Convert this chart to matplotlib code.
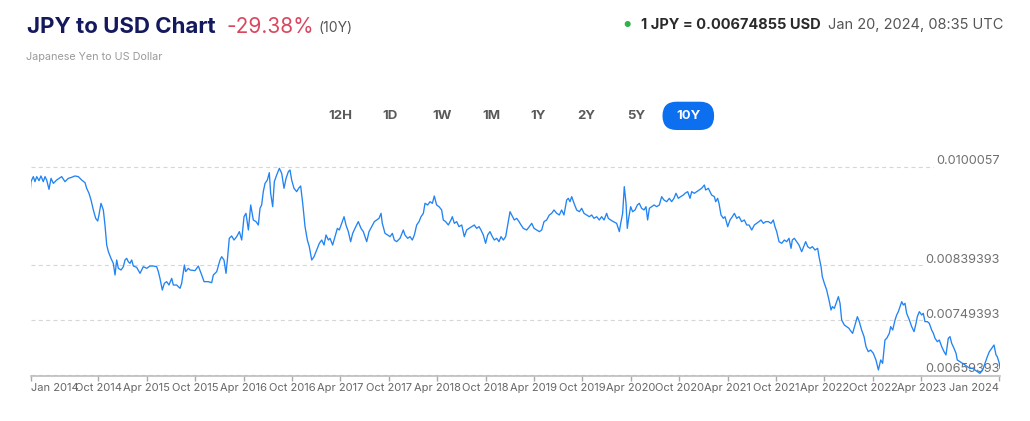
import numpy as np
import matplotlib
matplotlib.use('Agg')
import matplotlib.pyplot as plt
from matplotlib.patches import FancyBboxPatch, Circle
from matplotlib.transforms import IdentityTransform, blended_transform_factory

plt.rcParams['font.family'] = ['Inter', 'DejaVu Sans']

# JPY -> USD, dates as decimal years
dates_a = [2014.043, 2014.053, 2014.077, 2014.094, 2014.112, 2014.136, 2014.156, 2014.180, 2014.198, 2014.215,
           2014.239, 2014.260, 2014.284, 2014.318, 2014.370, 2014.404, 2014.439, 2014.473, 2014.507, 2014.542,
           2014.576, 2014.611, 2014.628, 2014.652, 2014.673, 2014.697, 2014.721, 2014.742, 2014.755, 2014.776,
           2014.800, 2014.817, 2014.835, 2014.852, 2014.879, 2014.903, 2014.921, 2014.938, 2014.955, 2014.983,
           2015.007, 2015.024, 2015.041, 2015.058, 2015.075, 2015.093, 2015.110, 2015.144, 2015.179, 2015.213,
           2015.248, 2015.282, 2015.316, 2015.351, 2015.368, 2015.385, 2015.409, 2015.430, 2015.454, 2015.478,
           2015.506, 2015.523, 2015.557, 2015.592, 2015.609, 2015.637, 2015.650, 2015.678]
rates_a = [0.009570, 0.009761, 0.009843, 0.009761, 0.009843, 0.009777, 0.009854, 0.009761, 0.009843, 0.009788,
           0.009635, 0.009815, 0.009733, 0.009788, 0.009843, 0.009761, 0.009815, 0.009832, 0.009854, 0.009843,
           0.009788, 0.009744, 0.009652, 0.009570, 0.009460, 0.009297, 0.009160, 0.009116, 0.009215, 0.009406,
           0.009297, 0.009051, 0.008723, 0.008614, 0.008505, 0.008423, 0.008232, 0.008478, 0.008341, 0.008314,
           0.008368, 0.008478, 0.008505, 0.008450, 0.008423, 0.008478, 0.008379, 0.008358, 0.008259, 0.008368,
           0.008341, 0.008379, 0.008379, 0.008368, 0.008287, 0.008177, 0.007986, 0.008095, 0.008123, 0.008068,
           0.008177, 0.008068, 0.008068, 0.008014, 0.008095, 0.008396, 0.008287, 0.008341]

dates_b = [2015.695, 2015.747, 2015.781, 2015.816, 2015.840, 2015.884, 2015.919, 2015.936, 2015.971, 2016.005,
           2016.022, 2016.046, 2016.067, 2016.081, 2016.101, 2016.125, 2016.150, 2016.177, 2016.205, 2016.229,
           2016.253, 2016.273, 2016.298, 2016.322, 2016.349, 2016.377, 2016.401, 2016.418, 2016.435, 2016.452,
           2016.470, 2016.494, 2016.514, 2016.528, 2016.549, 2016.566, 2016.590, 2016.618, 2016.642, 2016.666,
           2016.687, 2016.711, 2016.728, 2016.745, 2016.769, 2016.797, 2016.817, 2016.838, 2016.859, 2016.883,
           2016.907, 2016.927, 2016.952, 2016.976, 2017.003, 2017.031, 2017.055, 2017.079, 2017.100, 2017.124,
           2017.141, 2017.168, 2017.193, 2017.217, 2017.237, 2017.261, 2017.286, 2017.306, 2017.330, 2017.354,
           2017.375, 2017.399]
rates_b = [0.008314, 0.008303, 0.008379, 0.008232, 0.008123, 0.008123, 0.008106, 0.008232, 0.008287, 0.008478,
           0.008532, 0.008478, 0.008259, 0.008478, 0.008833, 0.008871, 0.008805, 0.008860, 0.008942, 0.008805,
           0.009187, 0.009242, 0.008969, 0.009379, 0.009133, 0.009106, 0.009051, 0.009324, 0.009379, 0.009597,
           0.009733, 0.009788, 0.009908, 0.009570, 0.009351, 0.009761, 0.009870, 0.009979, 0.009897, 0.009652,
           0.009815, 0.009925, 0.009952, 0.009788, 0.009652, 0.009597, 0.009652, 0.009690, 0.009406, 0.009024,
           0.008805, 0.008696, 0.008478, 0.008532, 0.008641, 0.008751, 0.008805, 0.008723, 0.008887, 0.008805,
           0.008833, 0.008723, 0.008860, 0.008996, 0.008969, 0.009078, 0.009187, 0.009051, 0.008942, 0.008778,
           0.008914, 0.008996]

dates_c = [2017.433, 2017.461, 2017.485, 2017.520, 2017.544, 2017.571, 2017.599, 2017.623, 2017.647, 2017.668,
           2017.681, 2017.709, 2017.736, 2017.760, 2017.785, 2017.805, 2017.829, 2017.864, 2017.898, 2017.915,
           2017.943, 2017.967, 2017.991, 2018.012, 2018.036, 2018.060, 2018.081, 2018.105, 2018.122, 2018.149,
           2018.174, 2018.198, 2018.218, 2018.242, 2018.267, 2018.294, 2018.311, 2018.335, 2018.363, 2018.390,
           2018.404, 2018.425, 2018.449, 2018.473, 2018.501, 2018.528, 2018.552, 2018.576, 2018.604, 2018.631,
           2018.655, 2018.680, 2018.700, 2018.724, 2018.748, 2018.769, 2018.793, 2018.817, 2018.838, 2018.862,
           2018.886, 2018.907, 2018.931, 2018.955, 2018.976, 2019.000, 2019.017, 2019.044, 2019.069, 2019.093]
rates_c = [0.009106, 0.008996, 0.008942, 0.008778, 0.008942, 0.009024, 0.009106, 0.009133, 0.009160, 0.009242,
           0.009078, 0.008914, 0.008887, 0.008860, 0.008914, 0.008805, 0.008778, 0.008833, 0.008969, 0.008887,
           0.008833, 0.008860, 0.008805, 0.008887, 0.009051, 0.009106, 0.009187, 0.009242, 0.009406, 0.009379,
           0.009433, 0.009406, 0.009526, 0.009379, 0.009351, 0.009297, 0.009133, 0.009106, 0.009051, 0.009133,
           0.009187, 0.009078, 0.009106, 0.009024, 0.009051, 0.008860, 0.008969, 0.008996, 0.009024, 0.009051,
           0.008996, 0.009024, 0.008969, 0.008887, 0.008751, 0.008887, 0.008942, 0.008860, 0.008805, 0.008833,
           0.008778, 0.008860, 0.008805, 0.008860, 0.009051, 0.009269, 0.009215, 0.009133, 0.009160, 0.009106]

dates_d = [2019.103, 2019.137, 2019.172, 2019.199, 2019.224, 2019.248, 2019.275, 2019.303, 2019.327, 2019.351,
           2019.378, 2019.406, 2019.430, 2019.454, 2019.482, 2019.509, 2019.533, 2019.557, 2019.585, 2019.602,
           2019.619, 2019.637, 2019.661, 2019.688, 2019.716, 2019.740, 2019.764, 2019.792, 2019.819, 2019.843,
           2019.867, 2019.895, 2019.922, 2019.946, 2019.971, 2019.998, 2020.015, 2020.039, 2020.067, 2020.101,
           2020.129, 2020.143, 2020.163, 2020.180, 2020.198, 2020.211, 2020.225, 2020.246, 2020.266, 2020.291,
           2020.315, 2020.335, 2020.359, 2020.384, 2020.404, 2020.421, 2020.439, 2020.463, 2020.487, 2020.514,
           2020.542, 2020.566, 2020.590, 2020.618, 2020.645, 2020.669, 2020.693, 2020.714, 2020.738, 2020.762,
           2020.790, 2020.807]
rates_d = [0.009078, 0.008996, 0.008969, 0.009024, 0.009078, 0.008996, 0.008969, 0.008942, 0.008969, 0.009106,
           0.009133, 0.009215, 0.009242, 0.009297, 0.009242, 0.009215, 0.009297, 0.009215, 0.009460, 0.009488,
           0.009433, 0.009515, 0.009406, 0.009297, 0.009269, 0.009324, 0.009242, 0.009215, 0.009187, 0.009215,
           0.009160, 0.009187, 0.009133, 0.009187, 0.009133, 0.009242, 0.009160, 0.009133, 0.009106, 0.009078,
           0.008942, 0.009078, 0.009242, 0.009679, 0.009406, 0.008996, 0.009160, 0.009351, 0.009269, 0.009297,
           0.009379, 0.009406, 0.009324, 0.009297, 0.009351, 0.009133, 0.009324, 0.009351, 0.009379, 0.009351,
           0.009379, 0.009515, 0.009460, 0.009433, 0.009488, 0.009433, 0.009488, 0.009570, 0.009488, 0.009515,
           0.009542, 0.009570]

dates_e = [2020.835, 2020.859, 2020.876, 2020.903, 2020.928, 2020.952, 2020.979, 2021.007, 2021.020, 2021.048,
           2021.065, 2021.082, 2021.110, 2021.124, 2021.144, 2021.158, 2021.179, 2021.203, 2021.220, 2021.248,
           2021.272, 2021.296, 2021.317, 2021.341, 2021.365, 2021.392, 2021.420, 2021.444, 2021.468, 2021.496,
           2021.523, 2021.547, 2021.571, 2021.592, 2021.616, 2021.640, 2021.668, 2021.695, 2021.719, 2021.736,
           2021.754, 2021.778, 2021.805, 2021.833, 2021.857, 2021.881, 2021.902, 2021.915, 2021.936, 2021.960,
           2021.984, 2022.012, 2022.033, 2022.053, 2022.074, 2022.098, 2022.122, 2022.150, 2022.177, 2022.191,
           2022.212, 2022.225, 2022.246, 2022.270, 2022.294, 2022.315, 2022.329, 2022.349, 2022.373, 2022.391,
           2022.408, 2022.425, 2022.452, 2022.477, 2022.501]
rates_e = [0.009597, 0.009488, 0.009597, 0.009570, 0.009597, 0.009624, 0.009652, 0.009706, 0.009624, 0.009652,
           0.009597, 0.009542, 0.009515, 0.009433, 0.009488, 0.009406, 0.009215, 0.009160, 0.009187, 0.009024,
           0.009133, 0.009187, 0.009242, 0.009160, 0.009187, 0.009106, 0.009133, 0.009051, 0.009051, 0.008969,
           0.009051, 0.009078, 0.009106, 0.009133, 0.009078, 0.009106, 0.009106, 0.009078, 0.009133, 0.009024,
           0.008942, 0.008778, 0.008751, 0.008805, 0.008778, 0.008833, 0.008669, 0.008805, 0.008833, 0.008778,
           0.008723, 0.008614, 0.008696, 0.008778, 0.008696, 0.008669, 0.008696, 0.008641, 0.008669, 0.008532,
           0.008368, 0.008205, 0.008095, 0.007986, 0.007822, 0.007659, 0.007713, 0.007686, 0.007795, 0.007877,
           0.007768, 0.007495, 0.007413, 0.007386, 0.007358]

dates_f = [2022.511, 2022.538, 2022.563, 2022.587, 2022.607, 2022.631, 2022.656, 2022.676, 2022.700, 2022.724,
           2022.752, 2022.779, 2022.804, 2022.828, 2022.848, 2022.872, 2022.890, 2022.917, 2022.931, 2022.952,
           2022.976, 2022.993, 2023.010, 2023.027, 2023.045, 2023.062, 2023.079, 2023.096, 2023.124, 2023.148,
           2023.172, 2023.193, 2023.206, 2023.227, 2023.251, 2023.268, 2023.285, 2023.310, 2023.330, 2023.354,
           2023.372, 2023.389, 2023.413, 2023.433, 2023.458, 2023.482, 2023.502, 2023.526, 2023.544, 2023.561,
           2023.585, 2023.606, 2023.619, 2023.647, 2023.674, 2023.699, 2023.723, 2023.750, 2023.778, 2023.802,
           2023.826, 2023.853, 2023.881, 2023.905, 2023.929, 2023.950, 2023.974, 2023.998, 2024.019, 2024.032,
           2024.053, 2024.060]
rates_f = [0.007331, 0.007276, 0.007413, 0.007549, 0.007468, 0.007331, 0.007222, 0.007058, 0.006976, 0.007003,
           0.006949, 0.006840, 0.006676, 0.006840, 0.006785, 0.007167, 0.007195, 0.007276, 0.007386, 0.007331,
           0.007495, 0.007577, 0.007631, 0.007713, 0.007795, 0.007741, 0.007768, 0.007604, 0.007495, 0.007386,
           0.007304, 0.007440, 0.007549, 0.007631, 0.007577, 0.007604, 0.007468, 0.007468, 0.007440, 0.007331,
           0.007276, 0.007195, 0.007140, 0.007167, 0.007058, 0.006976, 0.006922, 0.007195, 0.007222, 0.007113,
           0.007031, 0.006949, 0.006840, 0.006812, 0.006785, 0.006758, 0.006730, 0.006703, 0.006703, 0.006676,
           0.006649, 0.006621, 0.006676, 0.006785, 0.006894, 0.006976, 0.007031, 0.007085, 0.006922, 0.006894,
           0.006785, 0.006703]

grid_levels = [0.0100057, 0.00839393, 0.00749393, 0.00659393]
grid_labels = ['0.0100057', '0.00839393', '0.00749393', '0.00659393']

tick_pos = [2014.05, 2014.748, 2015.247, 2015.748, 2016.249, 2016.749, 2017.247, 2017.748, 2018.247, 2018.748,
            2019.247, 2019.748, 2020.249, 2020.749, 2021.247, 2021.748, 2022.247, 2022.748, 2023.247, 2024.05]
tick_labels = ['Jan 2014', 'Oct 2014', 'Apr 2015', 'Oct 2015', 'Apr 2016', 'Oct 2016', 'Apr 2017', 'Oct 2017',
               'Apr 2018', 'Oct 2018', 'Apr 2019', 'Oct 2019', 'Apr 2020', 'Oct 2020', 'Apr 2021', 'Oct 2021',
               'Apr 2022', 'Oct 2022', 'Apr 2023', 'Jan 2024']

periods = ['12H', '1D', '1W', '1M', '1Y', '2Y', '5Y', '10Y']
active_period = '10Y'

dates = np.concatenate([dates_a, dates_b, dates_c, dates_d, dates_e, dates_f])
rates = np.concatenate([rates_a, rates_b, rates_c, rates_d, rates_e, rates_f])

W, H = 1030, 421
fig = plt.figure(figsize=(W / 100, H / 100), dpi=100)
fig.patch.set_facecolor('white')


def fx(x):
    return x / W


def fy(y):
    return (H - y) / H


# chart area
ax = fig.add_axes([fx(30.7), fy(375.5), 969.3 / W, 225.5 / H])
ax.plot(dates, rates, color='#2283f3', lw=0.95, zorder=3)
ax.set_xlim(2014.05, 2024.06)
ax.set_ylim(0.0065857, 0.0102794)

trans = blended_transform_factory(ax.transAxes, ax.transData)
for lev, lab in zip(grid_levels, grid_labels):
    ax.axhline(lev, color='#d6d6d6', lw=0.8, dashes=(3.6, 3.0), zorder=1)
    ax.annotate(lab, xy=(1.0, lev), xycoords=trans, xytext=(0, 2.5), textcoords='offset pixels',
                ha='right', va='baseline', fontsize=9.1, color='#707070', zorder=2,
                bbox=dict(boxstyle='square,pad=0.15', fc='white', ec='none'), annotation_clip=False)

for side in ['top', 'right', 'left']:
    ax.spines[side].set_visible(False)
ax.spines['bottom'].set_color('#bdbdbd')
ax.spines['bottom'].set_linewidth(1.2)
ax.set_yticks([])
ax.set_xticks(tick_pos)
ax.set_xticklabels(tick_labels)
ax.tick_params(axis='x', length=3.5, width=1, color='#aaaaaa', labelsize=8, labelcolor='#666666', pad=2)
xl = ax.get_xticklabels()
xl[0].set_horizontalalignment('left')
xl[-1].set_horizontalalignment('right')

# header
fig.text(fx(27), fy(33.3), 'JPY to USD Chart', fontsize=16, fontweight='bold', color='#13195c', va='baseline')
fig.text(fx(226.7), fy(33.3), '-29.38%', fontsize=15, color='#d9475f', va='baseline')
fig.text(fx(319), fy(32.5), '(10Y)', fontsize=10, color='#555555', va='baseline')
fig.text(fx(26), fy(60.5), 'Japanese Yen to US Dollar', fontsize=7.8, color='#9a9a9a', va='baseline')

fig.add_artist(Circle((627.7, H - 24), 2.3, transform=IdentityTransform(), color='#2eb24c'))
fig.text(fx(640.7), fy(29.3), '1 JPY = 0.00674855 USD', fontsize=10.5, fontweight='bold', color='#2a2a2a',
         va='baseline')
fig.text(fx(1003), fy(29.3), 'Jan 20, 2024, 08:35 UTC', fontsize=10.5, color='#555555', va='baseline', ha='right')

# period buttons
btn_x = [340, 390, 441.7, 491.7, 538.3, 586.7, 636.7, 688.3]
for p, bx in zip(periods, btn_x):
    if p == active_period:
        pill = FancyBboxPatch((bx - 25.8, H - 130), 51.6, 28.3, boxstyle='round,pad=0,rounding_size=14',
                              transform=IdentityTransform(), fc='#0b6ff0', ec='none')
        fig.add_artist(pill)
        fig.text(fx(bx), fy(115.7), p, fontsize=9.5, fontweight='bold', color='white', ha='center', va='center')
    else:
        fig.text(fx(bx), fy(115.7), p, fontsize=9.5, fontweight='bold', color='#58595b', ha='center', va='center')

fig.savefig('out.png', dpi=100, facecolor='white')
